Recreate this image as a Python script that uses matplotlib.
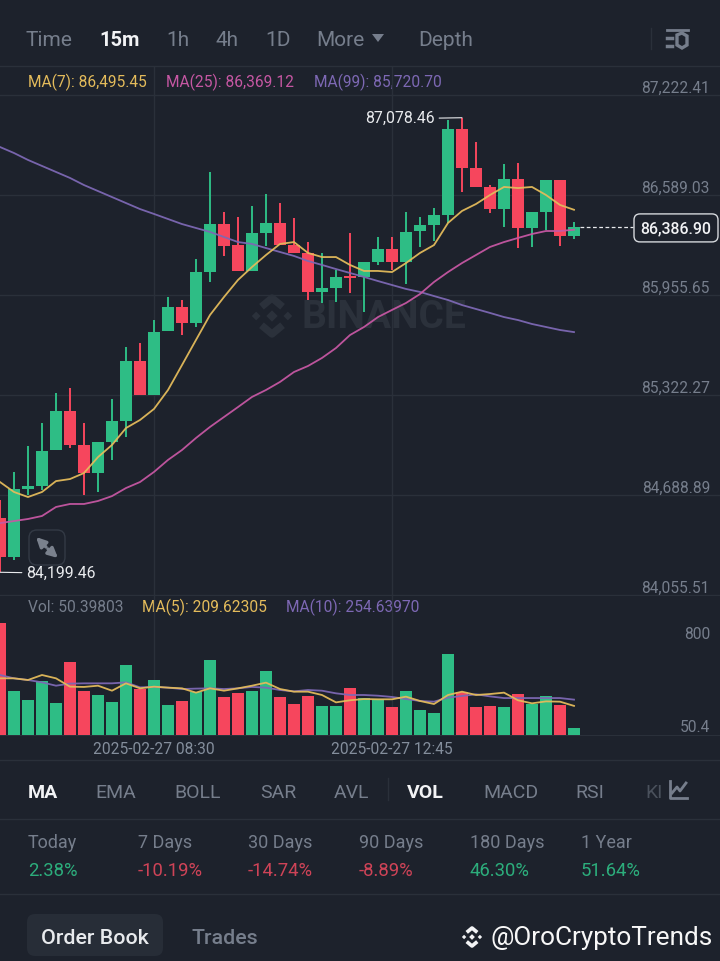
import matplotlib
matplotlib.use("Agg")
import matplotlib.pyplot as plt
from matplotlib.patches import FancyBboxPatch, Polygon
from matplotlib.ticker import FixedLocator
from matplotlib.transforms import ScaledTranslation

# ---------- data ----------
opens = [84543,84296,84727,84746,84974,85221,85006,84828,85025,85157,85538,85322,85728,85880,85778,86101,86405,86272,86108,86348,86412,86272,86222,85975,86000,86076,86070,86165,86247,86165,86361,86399,86462,87007,86760,86640,86500,86690,86380,86481,86684,86329]
highs = [84657,84835,85000,85145,85335,85366,85145,85025,85297,85626,85652,85797,85943,85924,86184,86735,86481,86450,86519,86595,86538,86443,86291,86222,86114,86348,86165,86323,86323,86481,86450,86507,87064,87078.46,86925,86652,86785,86792,86481,86684,86684,86418]
lows = [84199.46,84277,84689,84720,84974,84986,84689,84708,84911,85056,85322,85322,85728,85702,85753,86038,86203,86108,86108,86266,86272,86222,85924,85905,85911,85968,85848,86146,86114,86025,86260,86298,86412,86608,86640,86475,86386,86253,86260,86367,86266,86310]
closes = [84296,84727,84746,84968,85221,85006,84828,85025,85157,85538,85322,85721,85880,85778,86101,86405,86266,86108,86348,86412,86272,86222,85975,86000,86070,86063,86165,86247,86165,86355,86399,86462,87007,86760,86640,86500,86690,86380,86481,86684,86329,86386.90]
ma7 = [84771,84708,84676,84708,84777,84790,84828,84929,85006,85113,85164,85234,85354,85512,85671,85829,85943,86051,86133,86209,86279,86291,86222,86196,86196,86146,86108,86108,86101,86158,86222,86272,86412,86488,86532,86589,86640,86633,86640,86589,86526,86495.45]
ma25 = [84511,84524,84537,84556,84613,84632,84632,84651,84682,84733,84771,84835,84911,84974,85050,85120,85183,85246,85310,85354,85405,85468,85506,85557,85620,85702,85753,85816,85861,85905,85962,86038,86101,86158,86209,86260,86291,86317,86342,86361,86361,86369.12]
ma99 = [86893,86855,86811,86773,86735,86697,86652,86614,86576,86538,86500,86469,86437,86405,86380,86355,86323,86291,86279,86253,86228,86203,86171,86146,86120,86095,86070,86044,86019,85994,85975,85949,85924,85892,85867,85842,85816,85797,85772,85753,85734,85720.70]
volumes = [804,317,250,389,233,528,317,286,235,504,331,398,216,245,312,540,276,302,317,458,271,221,283,206,206,336,269,259,199,319,182,156,583,312,204,211,204,293,221,281,216,50.4]
vol_ma5 = [408,408,396,432,408,348,346,355,319,372,336,348,341,336,305,336,319,336,355,377,331,312,312,288,235,250,259,257,257,276,245,223,288,312,288,295,305,250,228,242,240,209.6]
vol_ma10 = [432,408,396,379,355,370,372,372,372,379,343,346,341,331,334,336,331,336,346,341,324,314,324,319,300,288,288,283,274,259,245,240,269,281,293,278,266,266,266,266,266,254.6]
price_ticks = [84055.51,84688.89,85322.27,85955.65,86589.03,87222.41]
vol_ticks = [50.4,800]
date_positions = [11,28]
date_labels = ["2025-02-27 08:30","2025-02-27 12:45"]
intervals = ["Time","15m","1h","4h","1D","More","Depth"]
indicators = ["MA","EMA","BOLL","SAR","AVL","VOL","MACD","RSI","KI"]
periods = ["Today","7 Days","30 Days","90 Days","180 Days","1 Year"]
changes = ["2.38%","-10.19%","-14.74%","-8.89%","46.30%","51.64%"]

# ---------- style ----------
plt.rcParams['font.family'] = ['Roboto', 'DejaVu Sans']
BG = "#1d222c"; GRID = "#2a303a"; GREEN = "#2ebd85"; RED = "#f6465d"
GRAY = "#848e9c"; DIM = "#767e8c"; YEL = "#e3bb5b"; PINK = "#c657a3"; PUR = "#7d68b4"

W, H = 720, 961
fig = plt.figure(figsize=(W/100, H/100), dpi=100, facecolor=BG)
chrome = fig.add_axes([0, 0, 1, 1], zorder=0)
chrome.set_xlim(0, W); chrome.set_ylim(H, 0); chrome.axis("off")

def T(x, y, s, color=GRAY, size=10, ha="left", weight="normal", **kw):
    return chrome.text(x, y + 1, s, color=color, fontsize=size, ha=ha, va="center", fontweight=weight, **kw)

def logo(cx, cy, s, color, ax=chrome):
    def dia(x, y, r):
        ax.add_patch(Polygon([(x-r, y), (x, y-r), (x+r, y), (x, y+r)], closed=True, fc=color, ec="none"))
    dia(cx, cy, s*0.26); dia(cx-s*0.72, cy, s*0.2); dia(cx+s*0.72, cy, s*0.2)
    lw = s*0.24
    ax.plot([cx-s*0.48, cx, cx+s*0.48], [cy-s*0.42, cy-s*0.82, cy-s*0.42], color=color, lw=lw, solid_capstyle="butt")
    ax.plot([cx-s*0.48, cx, cx+s*0.48], [cy+s*0.42, cy+s*0.82, cy+s*0.42], color=color, lw=lw, solid_capstyle="butt")

# ---------- separators ----------
for yy in (66, 760, 819, 894):
    chrome.plot([0, W], [yy, yy], color=GRID, lw=1)
chrome.plot([651, 651], [28, 49], color=GRID, lw=1)
chrome.plot([388, 388], [778, 800], color=GRID, lw=1)

# ---------- header ----------
hx = [26, 99, 166, 215, 265, 316, 418]
for x, s in zip(hx, intervals):
    if s == "15m":
        T(x, 40, s, color="#f2f3f5", size=14.5, weight="bold")
    else:
        T(x, 40, s, color=DIM, size=15)
chrome.add_patch(Polygon([(372, 34), (384, 34), (378, 42)], closed=True, fc=DIM, ec="none"))
chrome.plot([667, 688], [30, 30], color=DIM, lw=2)
chrome.plot([667, 672], [38, 38], color=DIM, lw=2.5)
chrome.plot([667, 672], [46, 46], color=DIM, lw=2.5)
chrome.add_patch(Polygon([(677, 35), (682, 33), (687, 36), (687, 45), (682, 48), (677, 45)], closed=True, fc="none", ec=DIM, lw=2.4))

T(28, 81, "MA(7): 86,495.45", color=YEL, size=11.2)
T(166, 81, "MA(25): 86,369.12", color=PINK, size=11.2)
T(314, 81, "MA(99): 85,720.70", color=PUR, size=11.2)

# ---------- watermark ----------
WM = "#2b313b"
logo(272, 316, 22, WM)
T(302, 317, "BINANCE", color=WM, size=28, weight="bold")

# ---------- price axes ----------
def pix_axes(top, bottom):
    return fig.add_axes([0, (H-bottom)/H, 1, (bottom-top)/H], zorder=2, facecolor="none")

ax = pix_axes(66, 595)
ax.set_xlim(0, W/14)
ax.set_ylim(84055.51, 84055.51 + (595-66)*6.3338)
xs = list(range(len(opens)))
cols = [GREEN if c >= o else RED for o, c in zip(opens, closes)]
ax.vlines(xs, lows, highs, colors=cols, lw=1.4, zorder=3)
ax.bar(xs, [abs(c-o) for o, c in zip(opens, closes)], bottom=[min(o, c) for o, c in zip(opens, closes)],
       width=0.88, color=cols, zorder=3)
ax.plot(xs, ma99, color=PUR, lw=1.3, alpha=0.95, zorder=4)
ax.plot(xs, ma25, color=PINK, lw=1.3, alpha=0.95, zorder=4)
ax.plot(xs, ma7, color=YEL, lw=1.3, alpha=0.95, zorder=5)
for s in ax.spines.values():
    s.set_visible(False)
ax.spines["bottom"].set_visible(True); ax.spines["bottom"].set_color(GRID)
ax.yaxis.tick_right()
ax.yaxis.set_major_locator(FixedLocator(price_ticks))
ax.set_yticklabels([f"{v:,.2f}" for v in price_ticks])
ax.tick_params(axis="y", length=0, pad=-7.2, labelsize=11.2, labelcolor=DIM)
for lb in ax.get_yticklabels():
    lb.set_ha("right"); lb.set_va("bottom")
    lb.set_transform(lb.get_transform() + ScaledTranslation(0, -0.9/72, fig.dpi_scale_trans))
ax.set_xticks(date_positions); ax.tick_params(axis="x", length=0, labelbottom=False)
ax.grid(True, color=GRID, lw=1, zorder=0); ax.set_axisbelow(True)

ax.annotate(f"{max(highs):,.2f}", xy=(highs.index(max(highs)), max(highs)), xytext=(-27, -1),
            textcoords="offset pixels", ha="right", va="center", color="#e8eaed", fontsize=11.4,
            arrowprops=dict(arrowstyle="-", color="#e8eaed", lw=0.8, shrinkA=1, shrinkB=0))
ax.annotate(f"{min(lows):,.2f}", xy=(lows.index(min(lows)), min(lows)), xytext=(26, -1),
            textcoords="offset pixels", ha="left", va="center", color="#e8eaed", fontsize=11.4,
            arrowprops=dict(arrowstyle="-", color="#e8eaed", lw=0.8, shrinkA=1, shrinkB=0))

# last price line + tag
ax.plot([xs[-1]+0.45, 633/14], [closes[-1], closes[-1]], color="#e8eaed", lw=0.9, ls=(0, (3, 2)), zorder=4)
tag_y = H - ax.transData.transform((0, closes[-1]))[1]
ax_tag = fig.add_axes([0, 0, 1, 1], zorder=3, facecolor="none"); ax_tag.axis("off")
ax_tag.set_xlim(0, W); ax_tag.set_ylim(H, 0)
ax_tag.add_patch(FancyBboxPatch((638, tag_y-9), 76, 20, boxstyle="round,pad=4,rounding_size=6", fc=BG, ec="#d5d8dc", lw=1))
ax_tag.text(676, tag_y+1.5, f"{closes[-1]:,.2f}", color="#f2f3f5", fontsize=11.4, ha="center", va="center", fontweight="medium")

# expand button
ax_tag.add_patch(FancyBboxPatch((33, 534), 28, 27, boxstyle="round,pad=4,rounding_size=8", fc="none", ec="#333a45", lw=1))
for a, b in (((36, 537), (46, 547)), ((58, 558), (48, 549))):
    ax_tag.annotate("", xy=a, xytext=b, arrowprops=dict(arrowstyle="-|>", color="#7a818d", lw=2.4, mutation_scale=14, shrinkA=0, shrinkB=0))

# ---------- volume axes ----------
va = pix_axes(595, 735)
va.set_xlim(0, W/14); va.set_ylim(0, 140*7.2)
va.bar(xs, volumes, width=0.88, color=cols, zorder=3)
va.plot(xs, vol_ma10, color=PUR, lw=1.3, alpha=0.95, zorder=4)
va.plot(xs, vol_ma5, color=YEL, lw=1.3, alpha=0.95, zorder=5)
for s in va.spines.values():
    s.set_visible(False)
va.spines["bottom"].set_visible(True); va.spines["bottom"].set_color(GRID)
va.set_xticks(date_positions); va.set_xticklabels(date_labels)
va.tick_params(axis="x", length=0, pad=5, labelsize=11.2, labelcolor=GRAY)
va.grid(True, axis="x", color=GRID, lw=1, zorder=0); va.set_axisbelow(True)
va.yaxis.tick_right()
va.set_yticks(vol_ticks); va.set_yticklabels(["50.4", "800"])
va.tick_params(axis="y", length=0, pad=-7.2, labelsize=11.2, labelcolor=DIM)
for lb in va.get_yticklabels():
    lb.set_ha("right")
va.get_yticklabels()[1].set_va("top")
va.get_yticklabels()[1].set_transform(va.get_yticklabels()[1].get_transform() + ScaledTranslation(0, -2/72, fig.dpi_scale_trans))
va.get_yticklabels()[0].set_va("center")

T(28, 606, "Vol: 50.39803", color=DIM, size=11.2)
T(142, 606, "MA(5): 209.62305", color=YEL, size=11.2)
T(286, 606, "MA(10): 254.63970", color=PUR, size=11.2)

# ---------- indicators ----------
ix = [28, 95, 174, 260, 334, 407, 483, 575, 645]
for x, s in zip(ix, indicators):
    if s in ("MA", "VOL"):
        T(x, 792, s, color="#f2f3f5", size=14, weight="bold")
    elif s == "KI":
        T(x, 792, s, color="#4a515c", size=14)
    else:
        T(x, 792, s, color=DIM, size=14)
chrome.plot([670, 670, 687], [781, 798, 798], color=DIM, lw=2)
chrome.plot([672, 677, 680, 686], [793, 787, 791, 783], color=DIM, lw=2)

# ---------- period stats ----------
px = [28, 138, 248, 359, 470, 581]
for x, p, c in zip(px, periods, changes):
    T(x, 842, p, color=DIM, size=13)
    T(x, 870, c, color=("#e2475c" if c.startswith("-") else "#2ebd85"), size=13.3, alpha=0.9)

# ---------- bottom ----------
chrome.add_patch(FancyBboxPatch((31, 918), 128, 34, boxstyle="round,pad=4,rounding_size=8", fc="#272d37", ec="none"))
T(41, 937, "Order Book", color="#e8eaed", size=15.4, weight="medium")
T(192, 937, "Trades", color=DIM, size=15.4, weight="medium")
logo(472, 937, 11, "#f2f3f5")
T(490, 937, "@OroCryptoTrends", color="#f7f7f7", size=18.8)

fig.savefig("out.png", dpi=100, facecolor=BG)
